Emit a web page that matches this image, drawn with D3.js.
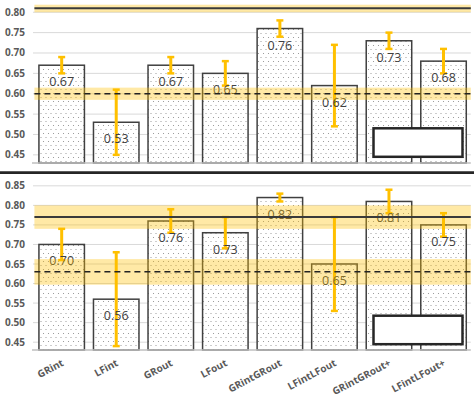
<!DOCTYPE html>
<html><head><meta charset="utf-8">
<script src="https://cdn.jsdelivr.net/npm/d3@7"></script>
<style>html,body{margin:0;padding:0;background:#fff;}svg{display:block;}</style>
</head><body>
<svg id="chart" width="474" height="397"></svg>
<script>
const categories = ["GRint","LFint","GRout","LFout","GRintGRout","LFintLFout","GRintGRout+","LFintLFout+"];
const topValues = [0.67,0.53,0.67,0.65,0.76,0.62,0.73,0.68];
const topErrors = [0.02,0.08,0.02,0.03,0.02,0.10,0.02,0.03];
const bottomValues = [0.70,0.56,0.76,0.73,0.82,0.65,0.81,0.75];
const bottomErrors = [0.04,0.12,0.03,0.04,0.01,0.12,0.03,0.03];
const topTicks = [0.45,0.50,0.55,0.60,0.65,0.70,0.75,0.80];
const bottomTicks = [0.45,0.50,0.55,0.60,0.65,0.70,0.75,0.80,0.85];
// reference lines: [value, bandLow, bandHigh]
const topSolid = [0.81, 0.80, 0.8185];
const topDashed = [0.60, 0.585, 0.615];
const bottomSolid = [0.77, 0.74, 0.80];
const bottomDashed = [0.63, 0.597, 0.6625];

const svg = d3.select("#chart");
const defs = svg.append("defs");
const pat = defs.append("pattern").attr("id","dots").attr("patternUnits","userSpaceOnUse")
  .attr("width",5).attr("height",8);
pat.append("rect").attr("width",5).attr("height",8).attr("fill","#fff");
pat.append("circle").attr("cx",1).attr("cy",1.5).attr("r",0.55).attr("fill","#8c8c8c");
pat.append("circle").attr("cx",3.5).attr("cy",5.5).attr("r",0.55).attr("fill","#8c8c8c");

const x = d3.scaleBand().domain(categories).range([34.4, 470.8]).paddingInner(0.166).paddingOuter(0.083);
const x0 = 33, x1 = 470.8;
const font = "'Open Sans', 'DejaVu Sans', sans-serif";

function panel(y, values, errors, ticks, solid, dashed, legendY, showX) {
  const g = svg.append("g");
  g.selectAll(".grid").data(ticks).join("line")
    .attr("x1", x0).attr("x2", x1).attr("y1", d=>y(d)).attr("y2", d=>y(d))
    .attr("stroke","#d9d9d9").attr("stroke-width",1);
  g.selectAll(".yt").data(ticks).join("text")
    .attr("x", 25).attr("y", d=>y(d)).attr("dy","0.35em").attr("text-anchor","end")
    .attr("font-family", font).attr("font-weight","bold").attr("font-size","10px")
    .attr("fill","#595959").text(d=>d.toFixed(2));
  const base = y.domain()[0];
  g.selectAll(".bar").data(values).join("rect")
    .attr("x",(d,i)=>x(categories[i])).attr("width",x.bandwidth())
    .attr("y",d=>y(d)).attr("height",d=>y(base)-y(d))
    .attr("fill","url(#dots)").attr("stroke","#404040").attr("stroke-width",1.5);
  g.append("line").attr("x1",x0-1).attr("x2",x1).attr("y1",y(base)).attr("y2",y(base))
    .attr("stroke","#bfbfbf").attr("stroke-width",1.5);
  const cx = i => x(categories[i]) + x.bandwidth()/2;
  g.selectAll(".err").data(values).join("line")
    .attr("x1",(d,i)=>cx(i)).attr("x2",(d,i)=>cx(i))
    .attr("y1",(d,i)=>y(d+errors[i])).attr("y2",(d,i)=>y(d-errors[i]))
    .attr("stroke","#ffc000").attr("stroke-width",3);
  [1,-1].forEach(s=>{
    g.selectAll(".cap"+s).data(values).join("line")
      .attr("x1",(d,i)=>cx(i)-3.5).attr("x2",(d,i)=>cx(i)+3.5)
      .attr("y1",(d,i)=>y(d+s*errors[i])).attr("y2",(d,i)=>y(d+s*errors[i]))
      .attr("stroke","#ffc000").attr("stroke-width",2.5);
  });
  g.selectAll(".lab").data(values).join("text")
    .attr("x",(d,i)=>cx(i)).attr("y",d=>y(d)+21).attr("text-anchor","middle")
    .attr("font-family",font).attr("font-size","12.5px").attr("fill","#404040")
    .text(d=>d.toFixed(2));
  [solid, dashed].forEach((r,k)=>{
    g.append("rect").attr("x",x0+1.4).attr("width",x1-x0-1.4)
      .attr("y",y(r[2])).attr("height",y(r[1])-y(r[2]))
      .attr("fill","#ffc000").attr("opacity",0.35);
    g.append("line").attr("x1",x0+1.4).attr("x2",x1).attr("y1",y(r[0])).attr("y2",y(r[0]))
      .attr("stroke", k===0 ? "#3a3a3a" : "#222").attr("stroke-width", k===0 ? 2 : 1.5)
      .attr("stroke-dasharray", k===0 ? null : "6,4");
  });
  g.append("rect").attr("x",373.5).attr("y",legendY).attr("width",89).attr("height",28.5)
    .attr("fill","#fff").attr("stroke","#262626").attr("stroke-width",2.5);
  if (showX) {
    g.selectAll(".xl").data(categories).join("text")
      .attr("transform",(d,i)=>`translate(${cx(i)+1},${y(base)+12}) rotate(-28)`)
      .attr("text-anchor","end").attr("dy","0.35em")
      .attr("font-family",font).attr("font-weight","bold").attr("font-size","10px")
      .attr("fill","#595959").text(d=>d);
  }
}

const yTop = d3.scaleLinear().domain([0.43, 0.82]).range([163, 4.1]);
const yBot = d3.scaleLinear().domain([0.43, 0.87]).range([350, 178]);
panel(yTop, topValues, topErrors, topTicks, topSolid, topDashed, 128.3, false);
panel(yBot, bottomValues, bottomErrors, bottomTicks, bottomSolid, bottomDashed, 315.7, true);

svg.append("line").attr("x1",0).attr("x2",474).attr("y1",172.7).attr("y2",172.7)
  .attr("stroke","#262626").attr("stroke-width",2.8);
</script>
</body></html>
